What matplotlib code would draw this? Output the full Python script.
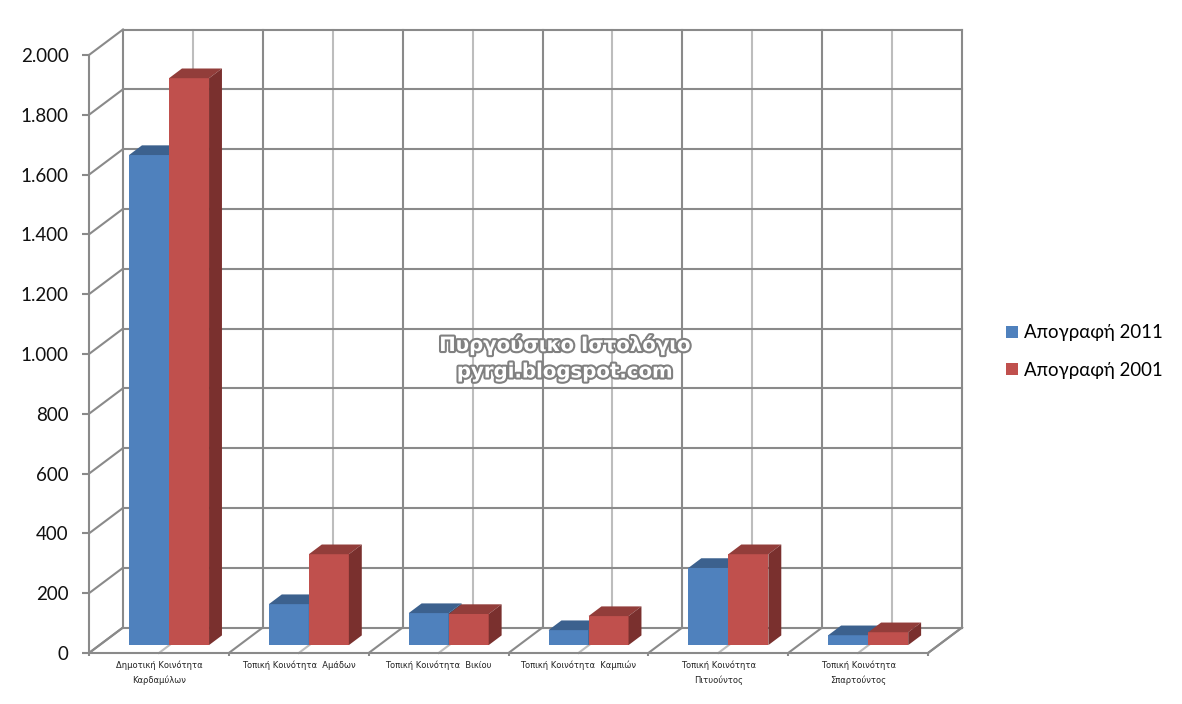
import matplotlib
matplotlib.use('Agg')
import matplotlib.pyplot as plt
import matplotlib.patheffects as pe
from matplotlib.patches import Patch, Polygon


categories = ['Δημοτική Κοινότητα\nΚαρδαμύλων', 'Τοπική Κοινότητα  Αμάδων',
              'Τοπική Κοινότητα  Βικίου', 'Τοπική Κοινότητα  Καμπιών',
              'Τοπική Κοινότητα\nΠιτυούντος', 'Τοπική Κοινότητα\nΣπαρτούντος']
census_2011 = [1639, 137, 107, 50, 258, 33]
census_2001 = [1896, 304, 104, 97, 304, 43]
y_ticks = [0, 200, 400, 600, 800, 1000, 1200, 1400, 1600, 1800, 2000]
y_labels = ['0', '200', '400', '600', '800', '1.000', '1.200', '1.400',
            '1.600', '1.800', '2.000']
series_names = ['Απογραφή 2011', 'Απογραφή 2001']

W, H = 1182, 704
DARK = '#8a8a8a'
LIGHT = '#bdbdbd'
UI_FONT = ['Lato', 'Noto Sans', 'DejaVu Sans']

# px of the projected chart box
LEFT, RIGHT, BOTTOM, TOP = 89, 928, 653, 55
DX = 34.0 / (RIGHT - LEFT) * 6       # depth of the box, x data units
DY = 25.5 / (BOTTOM - TOP) * 2000    # depth of the box, y data units


def depth(x, y, d):
    '''Move a point d (0 front, 1 back wall) into the box.'''
    return x + d * DX, y + d * DY


def draw_bar(ax, x0, x1, value, front, top, side):
    d0, d1 = 0.31, 0.69
    a = depth(x0, 0, d0)
    b = depth(x1, 0, d0)
    c = depth(x1, value, d0)
    e = depth(x0, value, d0)
    f = depth(x1, 0, d1)
    g = depth(x1, value, d1)
    h = depth(x0, value, d1)
    ax.add_patch(Polygon([a, b, c, e], fc=front, ec='none', zorder=3, clip_on=False))
    ax.add_patch(Polygon([e, c, g, h], fc=top, ec='none', zorder=3, clip_on=False))
    ax.add_patch(Polygon([b, f, g, c], fc=side, ec='none', zorder=3, clip_on=False))


fig = plt.figure(figsize=(W / 100, H / 100), dpi=100)
ax = fig.add_axes([LEFT / W, (H - BOTTOM) / H, (RIGHT - LEFT) / W, (BOTTOM - TOP) / H])
ax.set_xlim(0, 6)
ax.set_ylim(0, 2000)
ax.patch.set_visible(False)

for name in ('top', 'right'):
    ax.spines[name].set_visible(False)
for name in ('left', 'bottom'):
    ax.spines[name].set_color(DARK)
    ax.spines[name].set_linewidth(1.5)

ax.set_yticks(y_ticks)
ax.set_yticklabels(y_labels, family=UI_FONT, fontsize=13.5, color='#111111')
ax.tick_params(axis='y', color=DARK, width=1.5, length=5, pad=9.7)

ax.set_xticks(range(7))
ax.set_xticklabels([])
ax.tick_params(axis='x', color=DARK, width=1.5, length=2)
ax.set_xticks([i + 0.5 for i in range(6)], minor=True)
ax.set_xticklabels(categories, minor=True, fontsize=6.0, color='#222222',
                   family=['DejaVu Sans'], linespacing=1.65)
ax.tick_params(axis='x', which='minor', length=0, pad=5.5)

# back wall, side wall and floor
for y in y_ticks:
    bx, by = depth(0, y, 1)
    ex, ey = depth(6, y, 1)
    ax.plot([bx, ex], [by, ey], color=DARK, lw=1.5, clip_on=False, zorder=1)
    ax.plot([0, bx], [y, by], color=DARK, lw=1.5, clip_on=False, zorder=1)
bx, by = depth(6, 0, 1)
ax.plot([6, bx], [0, by], color=DARK, lw=1.5, clip_on=False, zorder=1)
for i in range(7):
    bx, by = depth(i, 0, 1)
    tx, ty = depth(i, 2000, 1)
    ax.plot([bx, tx], [by, ty], color=DARK, lw=1.5, clip_on=False, zorder=1)
    ax.plot([i, bx], [0, by], color=DARK, lw=1.5, clip_on=False, zorder=1)
for i in range(6):
    bx, by = depth(i + 0.5, 0, 1)
    tx, ty = depth(i + 0.5, 2000, 1)
    ax.plot([bx, tx], [by, ty], color=LIGHT, lw=1.5, clip_on=False, zorder=0.9)
    ax.plot([i + 0.5, bx], [0, by], color=LIGHT, lw=1.5, clip_on=False, zorder=0.9)

bar_w = 40 / ((RIGHT - LEFT) / 6)
for i in range(6):
    mid = i + 0.497
    draw_bar(ax, mid - bar_w, mid, census_2011[i], '#4f81bd', '#3c618e', '#2f4d70')
    draw_bar(ax, mid, mid + bar_w, census_2001[i], '#c0504d', '#923d3a', '#7a302e')

handles = [Patch(fc='#4f81bd', ec='none'), Patch(fc='#c0504d', ec='none')]
fig.legend(handles, series_names, loc='center left', bbox_to_anchor=(989 / W, 1 - 351.5 / H),
           frameon=False, handlelength=0.64, handleheight=0.64, handletextpad=0.33,
           labelspacing=1.1, prop={'family': UI_FONT, 'size': 13.4})

stroke = [pe.withStroke(linewidth=3, foreground='#808080')]
for text, ypx in (('Πυργούσικο Ιστολόγιο', 345), ('pyrgi.blogspot.com', 372)):
    fig.text(565 / W, 1 - ypx / H, text, ha='center', va='center', color='white',
             family='DejaVu Sans', weight='bold', fontsize=14.2, path_effects=stroke,
             zorder=10)

fig.savefig('out.png', dpi=100, facecolor='white')
